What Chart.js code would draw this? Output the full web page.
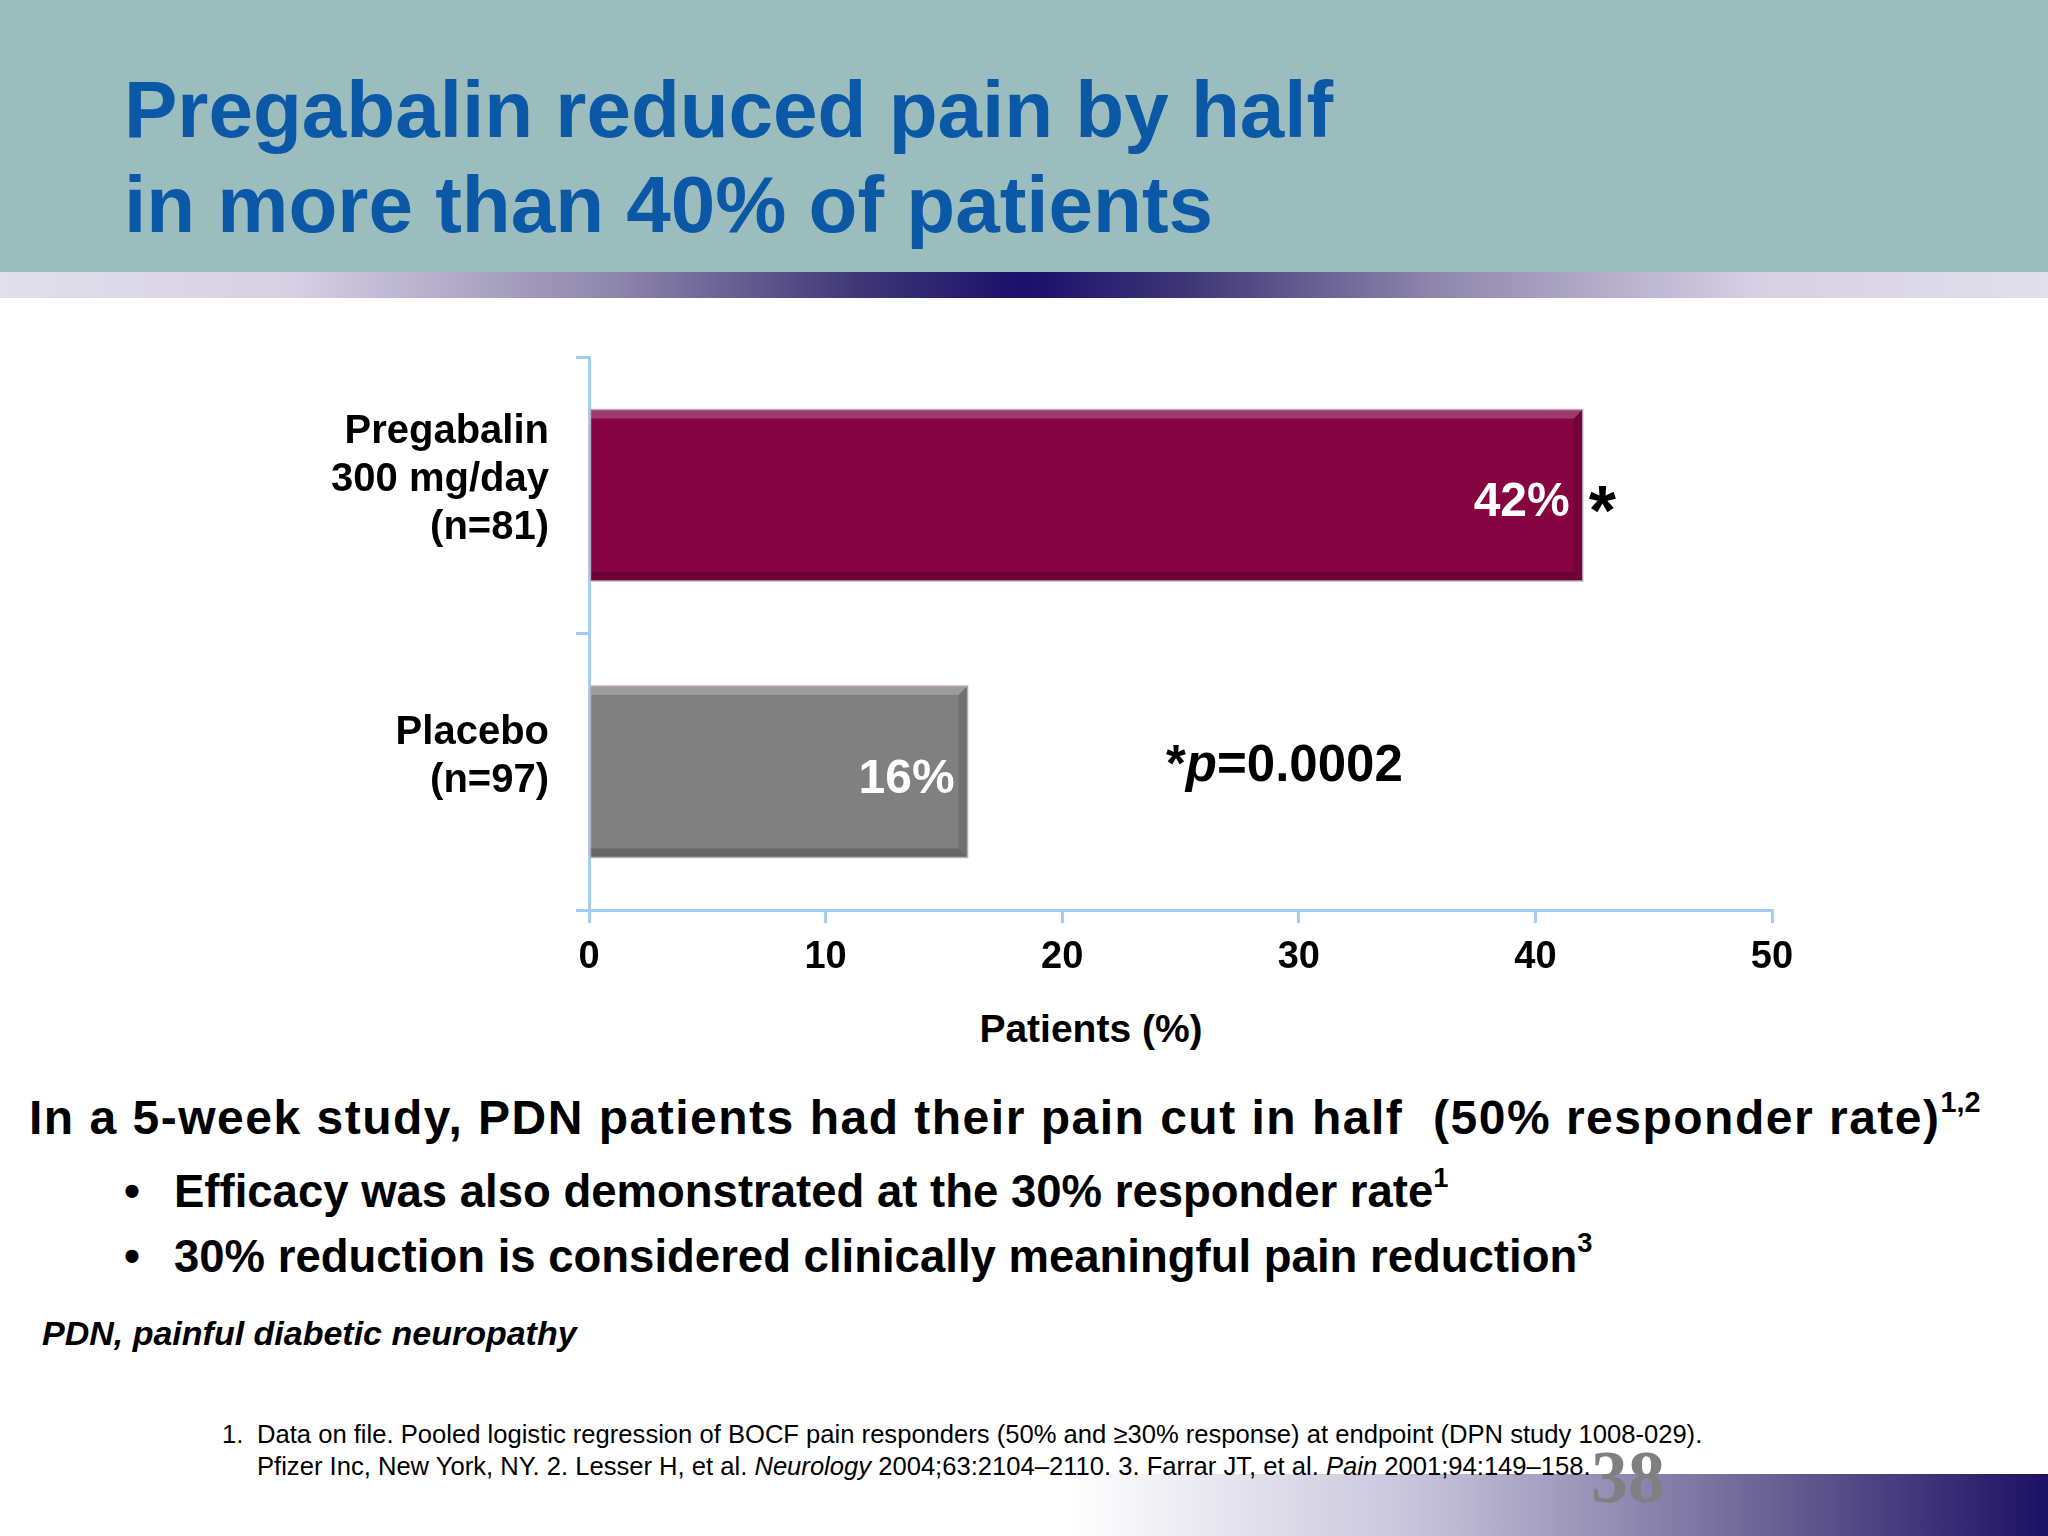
<!DOCTYPE html>
<html lang="en">
<head>
    <meta charset="UTF-8">
    <title>Pregabalin responder rate</title>
    <script src="https://cdn.jsdelivr.net/npm/chart.js"></script>
    <style>
        body {
            margin: 0;
            width: 2048px;
            height: 1536px;
            overflow: hidden;
            background: #ffffff;
            font-family: "Liberation Sans", Arial, sans-serif;
            color: #000;
            position: relative;
        }
        .header {
            position: absolute; left: 0; top: 0;
            width: 2048px; height: 272px;
            background: #9bbdbd;
        }
        .header-strip {
            position: absolute; left: 0; top: 272px;
            width: 2048px; height: 26px;
            background: linear-gradient(to right, #e2dfec 0%, #d6d1e4 14%, #8e86ad 30%, #3f3677 42%, #1a0f6b 50%, #3f3677 58%, #8e86ad 70%, #d6d1e4 86%, #e2dfec 100%);
        }
        h1 {
            position: absolute; left: 124px; top: 62px;
            margin: 0;
            font-size: 80px; line-height: 95px;
            font-weight: bold;
            color: #0b58a6;
        }
        #chartWrap {
            position: absolute; left: 0; top: 300px;
            width: 2048px; height: 690px;
        }
        .txt { position: absolute; margin: 0; font-weight: bold; line-height: 1; white-space: nowrap; }
        sup { font-size: 60%; line-height: 0; vertical-align: 0.75em; letter-spacing: 0; }
        .bottom-bar {
            position: absolute; left: 1070px; top: 1474px;
            width: 978px; height: 62px;
            background: linear-gradient(to right, #ffffff 0%, #c9c4dc 35%, #6f6698 70%, #1c1064 100%);
        }
        .page-no {
            position: absolute; left: 1591px; top: 1440px;
            font-family: "Liberation Serif", "Times New Roman", serif;
            font-weight: bold; font-size: 74px; line-height: 1;
            color: #808080;
        }
    </style>
</head>
<body>
    <div class="header"></div>
    <div class="header-strip"></div>
    <h1>Pregabalin reduced pain by half<br>in more than 40% of patients</h1>

    <div id="chartWrap"><canvas id="chart" width="2048" height="690"></canvas></div>

    <div class="txt" style="left:891px; top:1009px; width:400px; text-align:center; font-size:39px;">Patients (%)</div>
    <div class="txt" style="left:1166px; top:738px; font-size:51px;">*<i>p</i>=0.0002</div>

    <div class="txt" style="left:29px; top:1094px; font-size:48px; letter-spacing:1.5px;">In a 5-week study, PDN patients had their pain cut in half&nbsp; (50% responder rate)<sup>1,2</sup></div>
    <div class="txt" style="left:124px; top:1169px; font-size:45.5px;">&bull;</div>
    <div class="txt" style="left:174px; top:1169px; font-size:45.5px;">Efficacy was also demonstrated at the 30% responder rate<sup>1</sup></div>
    <div class="txt" style="left:124px; top:1234px; font-size:45.5px;">&bull;</div>
    <div class="txt" style="left:174px; top:1234px; font-size:45.5px;">30% reduction is considered clinically meaningful pain reduction<sup>3</sup></div>
    <div class="txt" style="left:42px; top:1316px; font-size:34px; font-style:italic;">PDN, painful diabetic neuropathy</div>

    <div class="bottom-bar"></div>
    <div class="txt" style="left:222px; top:1418px; font-size:25.6px; font-weight:normal; line-height:32px;">1.</div>
    <div class="txt" style="left:257px; top:1418px; font-size:25.6px; font-weight:normal; line-height:32px;">Data on file. Pooled logistic regression of BOCF pain responders (50% and &ge;30% response) at endpoint (DPN study 1008-029).<br>Pfizer Inc, New York, NY. 2. Lesser H, et al. <i>Neurology</i> 2004;63:2104&ndash;2110. 3. Farrar JT, et al. <i>Pain</i> 2001;94:149&ndash;158.</div>
    <div class="page-no">38</div>

    <script>
        // chart data
        const categories = [['Pregabalin', '300 mg/day', '(n=81)'], ['Placebo', '(n=97)']];
        const responderRates = [42, 16];
        const barColors = ['#850441', '#808080'];
        const significance = ['*', ''];
        const xMin = 0, xMax = 50, xStep = 10;

        const axisBlue = '#a3cdf2';
        const fontFamily = '"Liberation Sans", Arial, sans-serif';

        // bevel look + value labels drawn on the bar elements
        const barDecor = {
            id: 'barDecor',
            afterDatasetsDraw(chart) {
                const ctx = chart.ctx;
                const meta = chart.getDatasetMeta(0);
                meta.data.forEach((bar, i) => {
                    const p = bar.getProps(['x', 'y', 'base', 'height'], true);
                    const left = p.base, right = p.x;
                    const top = p.y - p.height / 2, bottom = p.y + p.height / 2;
                    const b = 9;
                    ctx.save();
                    // top highlight
                    ctx.fillStyle = 'rgba(255,255,255,0.22)';
                    ctx.beginPath();
                    ctx.moveTo(left, top); ctx.lineTo(right, top);
                    ctx.lineTo(right - b, top + b); ctx.lineTo(left, top + b);
                    ctx.closePath(); ctx.fill();
                    // right shade
                    ctx.fillStyle = 'rgba(0,0,0,0.12)';
                    ctx.beginPath();
                    ctx.moveTo(right, top); ctx.lineTo(right, bottom);
                    ctx.lineTo(right - b, bottom - b); ctx.lineTo(right - b, top + b);
                    ctx.closePath(); ctx.fill();
                    // bottom shade
                    ctx.fillStyle = 'rgba(0,0,0,0.2)';
                    ctx.beginPath();
                    ctx.moveTo(left, bottom); ctx.lineTo(right, bottom);
                    ctx.lineTo(right - b, bottom - b); ctx.lineTo(left, bottom - b);
                    ctx.closePath(); ctx.fill();
                    // outline
                    ctx.strokeStyle = 'rgba(190,170,185,0.9)';
                    ctx.lineWidth = 1.5;
                    ctx.strokeRect(left, top, right - left, bottom - top);

                    // value label
                    ctx.fillStyle = '#ffffff';
                    ctx.font = 'bold 48px ' + fontFamily;
                    ctx.textAlign = 'right';
                    ctx.textBaseline = 'middle';
                    ctx.fillText(responderRates[i] + '%', right - 13, p.y + 8);

                    // significance marker
                    if (significance[i]) {
                        ctx.fillStyle = '#000000';
                        ctx.font = 'bold 70px ' + fontFamily;
                        ctx.textAlign = 'left';
                        ctx.textBaseline = 'alphabetic';
                        ctx.fillText(significance[i], right + 6, p.y + 40);
                    }
                    ctx.restore();
                });
            }
        };

        new Chart(document.getElementById('chart'), {
            type: 'bar',
            data: {
                labels: categories,
                datasets: [{
                    data: responderRates,
                    backgroundColor: barColors,
                    borderWidth: 0,
                    barPercentage: 0.62,
                    categoryPercentage: 1.0
                }]
            },
            options: {
                indexAxis: 'y',
                responsive: false,
                animation: false,
                layout: { padding: { top: 57, right: 276, left: 0, bottom: 0 } },
                plugins: {
                    legend: { display: false },
                    tooltip: { enabled: false }
                },
                scales: {
                    x: {
                        min: xMin,
                        max: xMax,
                        ticks: {
                            stepSize: xStep,
                            color: '#000',
                            padding: 12,
                            font: { family: fontFamily, size: 38, weight: 'bold' }
                        },
                        grid: {
                            drawOnChartArea: false,
                            color: axisBlue,
                            lineWidth: 3,
                            tickLength: 13
                        },
                        border: { color: axisBlue, width: 3 },
                        afterFit(scale) {
                            scale.height = 80;
                            scale.paddingLeft = 0;
                            scale.paddingRight = 0;
                        }
                    },
                    y: {
                        ticks: {
                            color: '#000',
                            padding: 27,
                            font: { family: fontFamily, size: 40, weight: 'bold', lineHeight: 1.2 }
                        },
                        grid: {
                            offset: true,
                            drawOnChartArea: false,
                            color: axisBlue,
                            lineWidth: 3,
                            tickLength: 13
                        },
                        border: { color: axisBlue, width: 3 },
                        afterFit(scale) {
                            scale.width = 589;
                            scale.paddingTop = 0;
                            scale.paddingBottom = 0;
                            // labels sit a little above the category centre in the original
                            if (!scale._nudged) {
                                const orig = scale.getLabelItems.bind(scale);
                                scale.getLabelItems = (area) => orig(area).map(it => ({ ...it, textOffset: it.textOffset - 15 }));
                                scale._nudged = true;
                            }
                        }
                    }
                }
            },
            plugins: [barDecor]
        });
    </script>
</body>
</html>
